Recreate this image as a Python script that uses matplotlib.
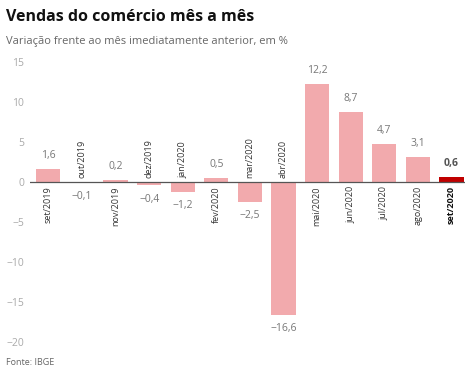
import matplotlib.pyplot as plt
import numpy as np

months = ['set/2019', 'out/2019', 'nov/2019', 'dez/2019', 'jan/2020', 'fev/2020',
          'mar/2020', 'abr/2020', 'mai/2020', 'jun/2020', 'jul/2020', 'ago/2020', 'set/2020']
values = [1.6, -0.1, 0.2, -0.4, -1.2, 0.5, -2.5, -16.6, 12.2, 8.7, 4.7, 3.1, 0.6]
yticks = [15, 10, 5, 0, -5, -10, -15, -20]

plt.rcParams['font.family'] = ['Open Sans', 'DejaVu Sans']

fig = plt.figure(figsize=(4.74, 3.82), dpi=100)
ax = fig.add_axes([0.063, 0.1047, 0.918, 0.733])

x = np.arange(len(months))
colors = ['#f2aaad'] * (len(months) - 1) + ['#c00000']
ax.bar(x, values, width=0.72, color=colors, zorder=2)
ax.axhline(0, color='#555555', linewidth=0.9, zorder=3)

for i, (m, v) in enumerate(zip(months, values)):
    last = i == len(months) - 1
    lab = f'{v:.1f}'.replace('.', ',').replace('-', '\u2212')
    if v >= 0:
        ax.annotate(lab, (i, v), xytext=(0, 6), textcoords='offset points',
                    ha='center', va='bottom', fontsize=7.5,
                    color='#555555' if last else '#777777',
                    fontweight='bold' if last else 'normal')
        ax.annotate(m, (i, 0), xytext=(0, -3), textcoords='offset points',
                    ha='center', va='top', rotation=90, fontsize=6.5,
                    color='#111111' if last else '#333333',
                    fontweight='bold' if last else 'normal')
    else:
        ax.annotate(lab, (i, v), xytext=(0, -6), textcoords='offset points',
                    ha='center', va='top', fontsize=7.5, color='#777777')
        ax.annotate(m, (i, 0), xytext=(0, 3), textcoords='offset points',
                    ha='center', va='bottom', rotation=90, fontsize=6.5,
                    color='#333333')

ax.set_xlim(-0.55, 12.4)
ax.set_ylim(-20, 15)
ax.set_yticks(yticks)
ax.set_yticklabels([str(t).replace('-', '\u2212') for t in yticks])
ax.tick_params(axis='y', length=0, labelsize=7.5, labelcolor='#aaaaaa', pad=4)
ax.set_xticks([])
for s in ax.spines.values():
    s.set_visible(False)

fig.text(0.013, 0.955, 'Vendas do comércio mês a mês', fontsize=11.5,
         fontweight='bold', color='#111111', va='center')
fig.text(0.013, 0.892, 'Variação frente ao mês imediatamente anterior, em %',
         fontsize=8, color='#666666', va='center')
fig.text(0.013, 0.05, 'Fonte: IBGE', fontsize=6.5, color='#666666', va='center')

fig.savefig('out.png', dpi=100)
